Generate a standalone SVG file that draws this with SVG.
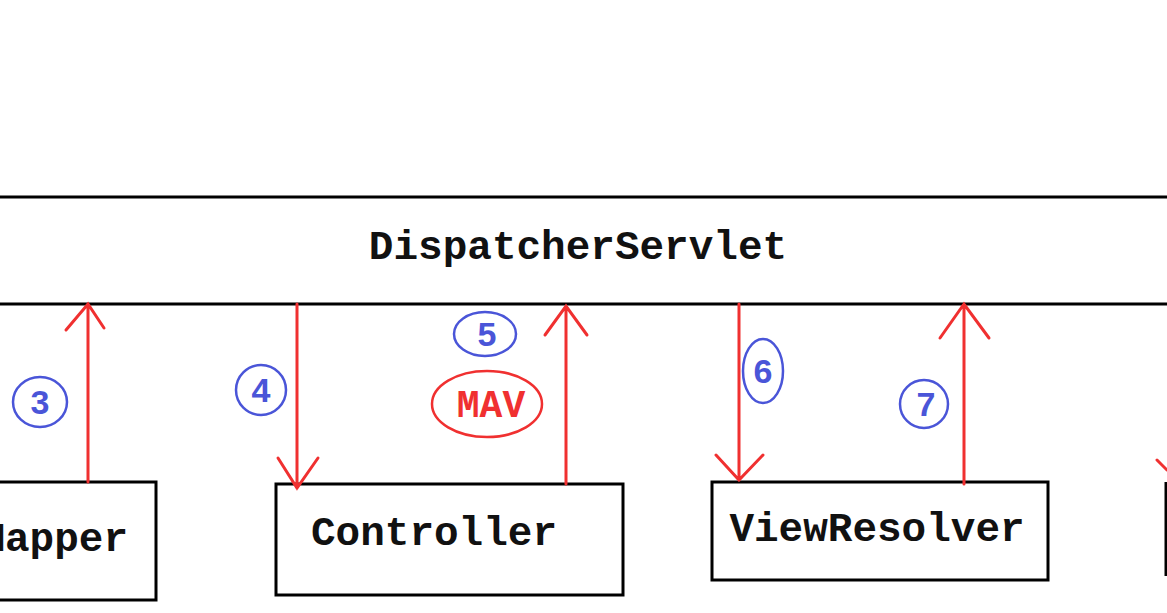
<svg xmlns="http://www.w3.org/2000/svg" width="1167" height="613" viewBox="0 0 1167 613">
<style>
.box{fill:none;stroke:#000;stroke-width:3}
.t{font-family:"Liberation Mono",monospace;font-weight:bold;fill:#111;font-size:41px}
.a{stroke:#f03030;stroke-width:3;fill:none;stroke-linecap:round}
.c{fill:none;stroke:#4a55d8;stroke-width:2.5}
.n{font-family:"Liberation Sans",sans-serif;font-size:34px;font-weight:bold;fill:#4a55d8;text-anchor:middle}
</style>
<rect width="1167" height="613" fill="#fff"/>
<g id="dispatcher">
<line x1="0" y1="197" x2="1167" y2="197" stroke="#000" stroke-width="3"/>
<line x1="0" y1="304" x2="1167" y2="304" stroke="#000" stroke-width="3"/>
<text class="t" x="578" y="259" text-anchor="middle">DispatcherServlet</text>
</g>
<g id="mapper">
<rect class="box" x="-10" y="482" width="166" height="118"/>
<text class="t" x="128" y="551" text-anchor="end">Mapper</text>
</g>
<g id="controller">
<rect class="box" x="276" y="484" width="347" height="111"/>
<text class="t" x="434" y="545" text-anchor="middle">Controller</text>
</g>
<g id="viewresolver">
<rect class="box" x="712" y="482" width="336" height="98"/>
<text class="t" x="877" y="541" text-anchor="middle">ViewResolver</text>
</g>
<g id="rightbox">
<line x1="1166" y1="482" x2="1166" y2="576" stroke="#000" stroke-width="3"/>
</g>
<g id="connectors">
<path class="a" d="M88 482V304M66 330L88 304L104 328"/>
<path class="a" d="M297 304V488M278 458L297 488L318 458"/>
<path class="a" d="M566 484V306M545 335L566 306L587 335"/>
<path class="a" d="M739 304V480M716 455L739 480L763 455"/>
<path class="a" d="M964 484V304M940 338L964 304L989 338"/>
<path class="a" d="M1157 460L1167 470"/>
</g>
<g id="labels">
<ellipse class="c" cx="40" cy="402" rx="27" ry="25"/><text class="n" x="40" y="414">3</text>
<ellipse class="c" cx="261" cy="390" rx="25" ry="25"/><text class="n" x="261" y="402">4</text>
<ellipse class="c" cx="485" cy="334" rx="31" ry="22"/><text class="n" x="487" y="346">5</text>
<ellipse cx="487" cy="404" rx="55" ry="33" fill="none" stroke="#f03030" stroke-width="2.5"/>
<text x="491" y="417" font-family="Liberation Mono,monospace" font-weight="bold" font-size="38" fill="#f03030" text-anchor="middle">MAV</text>
<ellipse class="c" cx="763" cy="371" rx="20" ry="32"/><text class="n" x="763" y="383">6</text>
<ellipse class="c" cx="924" cy="404" rx="24" ry="24"/><text class="n" x="926" y="416">7</text>
</g>
</svg>
